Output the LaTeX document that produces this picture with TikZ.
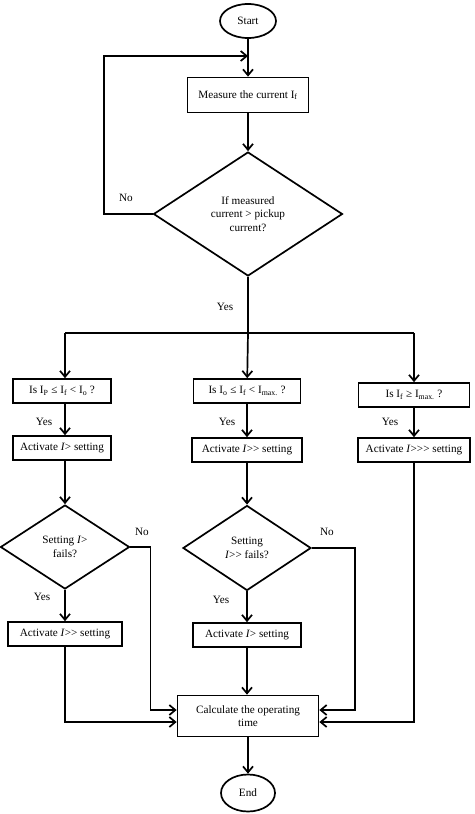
\documentclass[tikz,border=0pt]{standalone}
\usepackage{fontspec}
\setmainfont{Liberation Serif}
\usetikzlibrary{arrows.meta,shapes.geometric}

\begin{document}
\begin{tikzpicture}[
        x=1pt, y=-1pt,
        font=\fontsize{11.2}{13.5}\selectfont,
        line width=1.7pt,
        term/.style={ellipse, draw, minimum width=56pt, minimum height=34pt, inner sep=0pt},
        proc/.style={rectangle, draw, minimum height=24pt, align=center, inner sep=2pt},
        test/.style={diamond, draw, aspect=1.5, inner sep=0pt, align=center},
        arrow/.style={-{Straight Barb[length=6pt,width=10pt]}}
    ]
    \useasboundingbox (0,0) rectangle (474,814);

    % Top part
    \node[term] (start) at (248,21) {Start};
    \node[proc, minimum width=121pt, minimum height=35pt] (measure) at (248,95) {Measure the current I\textsubscript{f}};
    \node[test, minimum width=189pt, minimum height=124pt] (check) at (248,214) {If measured\\current > pickup\\current?};
    \coordinate (join) at (248,56);
    \coordinate (back) at (104,56);
    \coordinate (split) at (248,333);
    \coordinate (split1) at (65,333);
    \coordinate (split3) at (414,333);

    % Three ranges
    \node[proc, minimum width=98pt] (range1) at (62,391) {Is I\textsubscript{P} ≤ I\textsubscript{f} < I\textsubscript{o} ?};
    \node[proc, minimum width=107pt] (range2) at (247,391) {Is I\textsubscript{o} ≤ I\textsubscript{f} < I\textsubscript{max.} ?};
    \node[proc, minimum width=111pt] (range3) at (414,395) {Is I\textsubscript{f} ≥ I\textsubscript{max.} ?};
    \node[proc, minimum width=98pt] (act1) at (62,448) {Activate \textit{I}> setting};
    \node[proc, minimum width=110pt] (act2) at (247,450) {Activate \textit{I}>\kern0pt> setting};
    \node[proc, minimum width=112pt] (act3) at (414,450) {Activate \textit{I}>\kern0pt>\kern0pt> setting};

    % Backup settings
    \node[test, minimum width=129pt, minimum height=84pt] (fail1) at (65,547) {Setting \textit{I}>\\fails?};
    \node[test, minimum width=128pt, minimum height=85pt] (fail2) at (247,548) {Setting\\\textit{I}>\kern0pt> fails?};
    \node[proc, minimum width=114pt] (alt1) at (65,634) {Activate \textit{I}>\kern0pt> setting};
    \node[proc, minimum width=108pt] (alt2) at (247,635) {Activate \textit{I}> setting};

    % Bottom part
    \node[proc, minimum width=141pt, minimum height=41pt] (calc) at (248,716) {Calculate the operating\\time};
    \node[term, minimum width=54pt, minimum height=37pt] (end) at (248,793) {End};

    % Connectors
    \draw[arrow] (start) -- (measure);
    \draw[arrow] (measure) -- (check);
    \draw[arrow] (check.west) -| (back) -- (join);
    \draw (check.south) -- (split);
    \draw (split1) -- (split3);
    \draw[arrow] (split1) -- (split1 |- range1.north);
    \draw[arrow] (split) -- (range2);
    \draw[arrow] (split3) -- (range3);
    \draw[arrow] (split1 |- range1.south) -- (split1 |- act1.north);
    \draw[arrow] (range2) -- (act2);
    \draw[arrow] (range3) -- (act3);
    \draw[arrow] (split1 |- act1.south) -- (fail1);
    \draw[arrow] (act2) -- (fail2);
    \draw[arrow] (fail1) -- (alt1);
    \draw[arrow] (fail2) -- (alt2);
    \draw[arrow] (fail1.east) -- ++(20,0) |- ([yshift=6pt]calc.west);
    \draw[arrow] (alt1.south) |- ([yshift=-6pt]calc.west);
    \draw[arrow] (alt2.south) -- (alt2.south |- calc.north);
    \draw[arrow] (fail2.east) -- ++(43,0) |- ([yshift=6pt]calc.east);
    \draw[arrow] (act3.south) |- ([yshift=-6pt]calc.east);
    \draw[arrow] (calc) -- (end);

    % Labels
    \node (no0) at (126,198) {No};
    \node (yes0) at (225,307) {Yes};
    \node (yes1) at (44,422) {Yes};
    \node (yes2) at (227,422) {Yes};
    \node (yes3) at (390,422) {Yes};
    \node (no1) at (142,532) {No};
    \node (no2) at (327,532) {No};
    \node (yes4) at (42,597) {Yes};
    \node (yes5) at (221,600) {Yes};

\end{tikzpicture}
\end{document}
